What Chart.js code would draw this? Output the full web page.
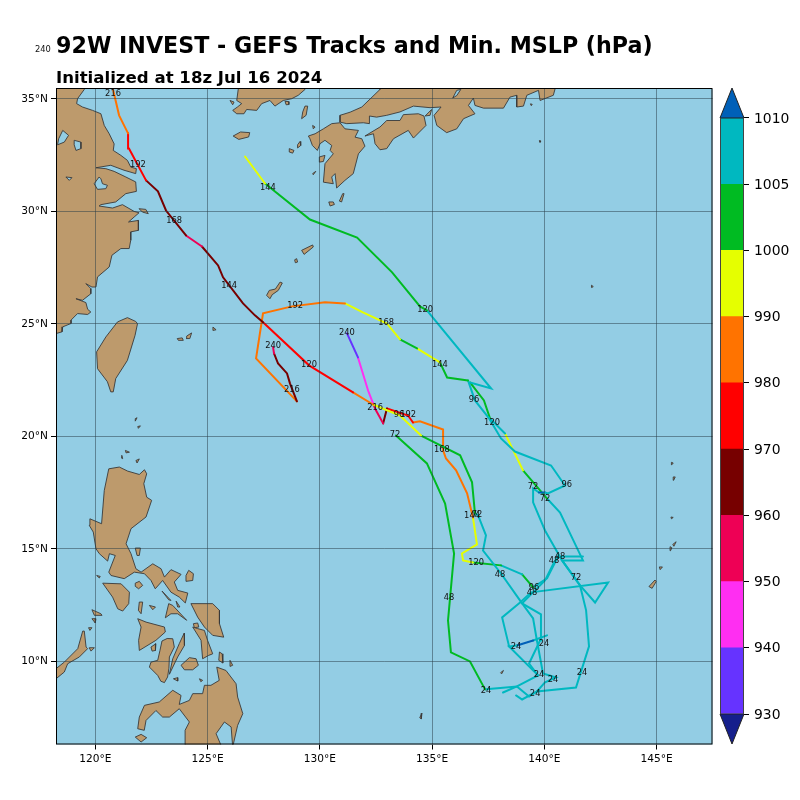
<!DOCTYPE html>
<html><head><meta charset="utf-8">
<style>html,body{margin:0;padding:0;background:#fff;width:800px;height:800px;overflow:hidden}
canvas{position:absolute;top:0}#map{left:0}#bar{left:712px}</style>
<script src="https://cdn.jsdelivr.net/npm/chart.js@4"></script></head>
<body><canvas id="map" width="800" height="800"></canvas><canvas id="bar" width="88" height="800"></canvas>
<script>
const titleText="92W INVEST - GEFS Tracks and Min. MSLP (hPa)";
const subtitleText="Initialized at 18z Jul 16 2024";
const levelValues=[930,940,950,960,970,980,990,1000,1005,1010];
const bandColors=["#6633ff","#ff2ef2","#ee0055","#770000","#ff0000","#ff7300","#e5ff00","#00bb22","#00b8c0"];
const underColor="#151f8c", overColor="#0060b8";
const oceanColor="#93cde4", landColor="#bd9a6c";

const t1Lon=[138.16,138.78,139.72,139.32,139.81,139.85,139.01,138.07,137.27,137.40,137.05,136.91,136.78,136.25,134.51,133.57,132.37,131.48,129.52,127.47,127.11,126.58,125.69,125.47,124.75,124.04,123.15,122.79,122.26,121.5,121.46,121.06,120.79,120.7];
const t1Lat=[8.62,8.89,9.38,9.91,10.93,12.09,12.58,13.91,14.93,15.6,16.49,16.58,17.96,19.16,20.04,20.93,21.42,21.96,23.16,25.07,25.38,25.91,27.07,27.6,28.44,28.93,30.04,30.89,31.38,32.8,33.47,34.27,35.42,35.8];
const t1Mslp=[1007,1007,1007,1007,1007,1007,1007,1007,1007,1007,1007,1003,1003,1003,995,995,985,975,975,965,965,965,965,965,955,965,965,965,975,975,985,985,985,985];

const t2Lon=[137.36,136.69,135.84,135.71,135.98,135.58,134.77,133.39];
const t2Lat=[8.76,10,10.4,11.82,14.8,17.02,18.8,20.04];
const t2Mslp=[1003,1003,1003,1003,1003,1003,1003,1003];

const t3Lon=[138.74,139.01,139.67,141.41,141.99,141.86,141.59,140.79,140.03,139.5,139.5,139.76,140.03,140.16,140.92,140.3,138.69,138.07,137.54,136.91,136.6,135.67,135.35,134.33,133.57,132.99,131.92,131.12,130.23,128.76,127.47,127.16,128.98,128.67,128.54,128.14,127.96,127.92];
const t3Lat=[8.49,8.31,8.67,8.84,10.67,12.27,13.38,14.49,15.82,17.07,17.69,17.51,17.51,17.47,17.82,18.71,19.33,19.91,20.8,21.6,22.49,22.62,23.29,23.91,24.31,25.02,25.51,25.91,25.96,25.78,25.47,23.47,21.56,22.36,22.8,23.24,23.69,23.96];
const t3Mslp=[1007,1007,1007,1007,1007,1007,1007,1007,1007,1007,1007,1012,1007,1007,1007,1007,1007,1007,1007,1007,1003,1003,995,1003,995,995,995,985,985,985,985,985,965,965,965,965,955,955];

const t4Lon=[141.72,140.61,140.52,140.12,139.5,139.01,138.07,136.82,136.38,136.33,137,136.82,136.56,136.07,135.62,135.49,135.49,134.46,134.15,133.93,132.99,132.82,132.5,132.37,132.15,131.7,131.21];
const t4Lat=[14.67,14.67,14.49,13.69,13.29,13.87,14.27,14.4,14.49,14.8,15.2,16.4,17.47,18.49,19.02,19.38,20.31,20.67,20.62,20.93,21.24,20.58,21.16,21.47,22.04,23.51,24.58];
const t4Mslp=[1007,1007,1007,1007,1003,1007,1003,995,995,995,995,985,985,985,985,985,985,985,975,975,965,955,955,945,945,935,935];

const t5Lon=[138.43,138.12,138.92,139.41,142.84,142.26,141.59,140.79,141.72,140.7,140.12,139.81,139.05,138.25,137.58,137.31,136.69,137.63,134.77,134.46,133.22,131.66,129.56,127.56,126.67];
const t5Lat=[10.67,11.96,12.62,13.07,13.51,12.62,13.38,14.49,14.49,16.62,17.24,17.6,18.49,20.13,20.8,21.6,22.4,22.13,25.6,25.78,27.29,28.84,29.64,31.24,32.44];
const t5Mslp=[1007,1007,1007,1007,1007,1007,1007,1007,1007,1007,1003,1003,995,1007,1003,1003,1007,1007,1003,1003,1003,1003,1003,995,995];

const t6Lon=[137.40,138.78,139.32,139.67,140.03,140.52,139.94,139.67,139.5,139.01,139.5,140.03,140.43,140.61];
const t6Lat=[8.76,8.89,8.44,8.67,9.07,9.29,9.47,10.93,11.91,12.58,13.07,13.6,14.4,14.67];
const t6Mslp=[1007,1007,1007,1007,1007,1007,1007,1007,1007,1007,1007,1007,1007,1007];

const t7Lon=[140.12,139.5,138.78,138.43,139.72];
const t7Lat=[11.16,10.93,10.71,10.67,9.38];
const t7Mslp=[1007,1012,1007,1007,1007];

const hourTexts=["240","216","192","168","144","144","192","120","168","240","240","120","144","216","96","216","96","192","120","72","168","72","96","72","144","72","120","48","48","48","72","96","48","48","24","24","24","24","24","24","24"];
const hourLon=[117.67,120.79,121.9,123.51,125.96,127.69,128.9,134.69,132.95,131.21,127.92,129.52,135.35,128.76,136.87,132.46,133.53,133.93,137.67,133.35,135.44,139.5,141.0,140.03,136.78,137,136.96,138.03,140.7,140.43,141.41,139.54,139.45,135.75,138.74,139.99,139.76,140.39,141.68,137.40,139.59];
const hourLat=[37.16,35.24,32.09,29.56,26.71,31.07,25.82,25.64,25.07,24.62,24.04,23.16,23.2,22.09,21.64,21.29,20.98,20.98,20.62,20.09,19.42,17.78,17.87,17.24,16.49,16.53,14.4,13.87,14.67,14.49,13.73,13.29,13.07,12.84,10.67,10.8,9.42,9.2,9.51,8.71,8.58];

const lonTicks=[120,125,130,135,140,145];
const latTicks=[10,15,20,25,30,35];

const chinaCoast=[[119.58,35.67],[119.51,35.42],[119.21,35.01],[119.17,34.79],[119.43,34.64],[119.88,34.49],[120.25,34.34],[120.40,33.82],[120.62,33.45],[120.84,33.0],[120.80,32.71],[121.14,32.49],[121.43,32.27],[121.58,31.97],[121.83,31.9],[121.80,31.68],[121.28,31.83],[120.69,32.05],[120.03,31.94],[120.47,31.9],[120.84,31.78],[121.36,31.53],[121.80,31.31],[121.83,30.89],[121.36,30.79],[120.91,30.42],[120.25,30.3],[120.17,30.24],[120.77,30.15],[121.21,30.3],[121.73,30.0],[121.95,29.94],[121.73,29.75],[121.48,29.53],[121.92,29.6],[121.92,29.16],[121.58,29.09],[121.58,28.72],[121.51,28.35],[121.14,28.35],[120.74,28.05],[120.62,27.53],[120.10,27.09],[120.03,26.64],[119.85,26.64],[119.58,26.79],[119.80,26.57],[119.80,26.34],[119.43,26.05],[119.14,26.12],[119.58,25.95],[119.66,25.65],[119.80,25.53],[119.66,25.42],[119.21,25.46],[118.92,25.17],[118.92,25.02],[118.55,24.87],[118.52,24.65],[118.25,24.57],[117.5,24.57],[117.5,35.67]];
const taiwanCoast=[[121.43,25.28],[121.80,25.11],[121.88,25.01],[121.77,24.49],[121.43,23.38],[120.91,22.57],[120.80,21.98],[120.69,21.98],[120.54,22.43],[120.10,23.01],[120.06,23.76],[120.47,24.42],[120.99,25.09]];
const koreaCoast=[[126.37,35.67],[126.37,35.45],[126.3,34.93],[126.52,34.79],[126.33,34.64],[126.12,34.49],[126.3,34.34],[126.62,34.34],[126.74,34.53],[127.19,34.49],[127.41,34.79],[127.78,34.93],[128.0,34.68],[128.37,34.93],[128.75,35.01],[129.04,35.16],[129.34,35.42],[129.37,35.67]];
const kyushuCoast=[[130.53,33.9],[130.9,33.94],[131.12,33.67],[131.72,33.6],[131.57,33.3],[131.87,33.23],[132.01,32.9],[131.72,32.56],[131.49,31.68],[131.12,31.38],[130.75,31.04],[130.68,31.68],[130.53,31.53],[130.6,31.23],[130.16,31.3],[130.23,32.12],[130.6,32.56],[130.46,32.71],[130.53,32.93],[130.23,33.16],[130.01,33.01],[129.89,32.71],[129.67,32.93],[129.56,33.23],[129.49,33.35],[129.79,33.45],[130.16,33.67]];
const shikokuCoast=[[132.01,33.35],[132.68,33.75],[132.98,34.04],[133.57,34.04],[133.72,34.3],[134.39,34.34],[134.64,34.24],[134.73,33.82],[134.17,33.26],[133.94,33.6],[133.28,33.23],[132.98,32.79],[132.68,32.74],[132.46,33.01],[132.39,33.45]];
const honshuCoast=[[130.9,34.27],[130.9,33.97],[131.2,33.9],[131.94,33.94],[132.21,33.9],[132.21,34.24],[132.53,34.19],[132.98,34.27],[133.57,34.42],[134.17,34.68],[134.91,34.61],[135.4,34.64],[135.09,34.27],[135.21,33.82],[135.65,33.5],[136.1,33.67],[136.4,34.12],[136.91,34.34],[136.62,34.71],[136.84,35.04],[136.91,34.71],[137.29,34.59],[138.18,34.59],[138.47,35.08],[138.77,35.16],[138.77,34.64],[139.07,34.68],[139.22,35.16],[139.74,35.38],[139.81,34.93],[140.4,35.16],[140.48,35.45],[140.55,35.67],[132.68,35.67],[132.68,35.42],[131.87,34.64],[131.35,34.41]];
const luzonCoast=[[120.6,18.56],[121.07,18.64],[121.44,18.46],[121.96,18.31],[122.19,18.52],[122.29,18.34],[122.16,17.9],[122.29,17.3],[122.51,17.16],[122.26,16.42],[121.59,15.9],[121.37,15.23],[121.59,14.79],[121.81,14.12],[122.04,13.97],[122.56,14.34],[122.93,14.12],[123.08,13.75],[123.37,14.08],[123.82,13.87],[123.52,13.53],[123.67,13.16],[124.12,13.04],[124.01,12.6],[123.74,12.86],[123.37,13.08],[123.0,13.6],[122.67,13.23],[122.48,13.6],[122.19,13.9],[121.74,13.97],[121.29,13.68],[120.7,13.82],[120.6,13.97],[120.89,14.71],[120.63,14.79],[120.55,14.46],[120.18,14.79],[120.03,15.01],[119.91,15.75],[119.73,16.05],[119.76,16.34],[120.28,16.12],[120.4,17.6]];
const mindoroCoast=[[120.33,13.48],[121.15,13.45],[121.52,13.08],[121.49,12.57],[121.22,12.24],[121.0,12.34],[120.77,12.86]];
const samarCoast=[[124.26,12.57],[125.23,12.57],[125.53,12.27],[125.53,11.68],[125.72,11.08],[125.23,11.16],[124.86,11.53],[124.56,11.97]];
const leyteCoast=[[124.34,11.53],[124.56,11.46],[124.86,11.38],[125.0,10.94],[125.23,10.34],[125.05,10.27],[124.78,10.12],[124.71,10.94]];
const panayCoast=[[121.89,11.9],[122.26,11.75],[123.08,11.53],[123.12,11.31],[122.7,10.94],[121.96,10.49],[121.93,10.94],[122.04,11.53]];
const negrosCoast=[[122.97,10.91],[123.2,11.02],[123.45,11.01],[123.52,10.64],[123.3,10.2],[123.28,9.7],[123.22,9.31],[123.08,9.06],[122.92,9.12],[122.78,9.38],[122.41,9.75],[122.48,9.97],[122.78,10.05],[122.88,10.49]];
const cebuCoast=[[123.96,11.26],[123.97,10.71],[123.67,10.2],[123.3,9.43],[123.45,10.12],[123.74,10.79]];
const boholCoast=[[123.82,9.83],[124.19,10.17],[124.49,10.12],[124.59,9.83],[124.34,9.63],[123.97,9.63]];
const mindanaoCoast=[[125.41,9.75],[125.82,9.6],[126.27,9.01],[126.34,8.42],[126.57,7.68],[126.34,7.16],[126.12,6.2],[126.05,7.09],[125.75,7.31],[125.38,6.79],[125.63,6.2],[124.04,6.2],[124.0,6.94],[124.19,7.31],[123.74,7.9],[123.3,7.53],[123.0,7.53],[122.7,7.82],[122.26,7.38],[122.18,6.94],[121.89,7.01],[121.96,7.53],[122.19,8.05],[122.85,8.2],[123.45,8.72],[123.82,8.49],[123.74,8.09],[124.19,8.27],[124.34,8.57],[124.78,8.57],[124.86,8.94],[125.15,8.94],[125.52,9.16]];
const palawanCoast=[[118.25,9.23],[118.25,9.68],[118.62,9.97],[119.22,10.57],[119.44,11.35],[119.51,11.35],[119.59,10.64],[119.66,10.57],[119.29,10.2],[118.77,9.9],[118.62,9.53]];
const okinawaCoast=[[127.63,26.27],[127.75,26.49],[128.02,26.55],[128.23,26.86],[128.33,26.82],[128.15,26.49],[127.88,26.3],[127.78,26.12]];
const smallIslands=[
[[121.95,30.12],[122.25,30.09],[122.36,29.9],[122.10,29.97]],
[[123.65,24.35],[123.87,24.38],[123.92,24.27],[123.70,24.27]],
[[124.07,24.46],[124.29,24.6],[124.21,24.35],[124.05,24.35]],
[[125.24,24.86],[125.38,24.74],[125.24,24.71]],
[[126.14,33.35],[126.47,33.53],[126.88,33.5],[126.83,33.31],[126.39,33.2]],
[[129.34,34.68],[129.46,34.68],[129.39,34.27],[129.19,34.12],[129.24,34.42]],
[[129.68,33.82],[129.79,33.75],[129.71,33.67]],
[[129.98,32.42],[130.23,32.49],[130.16,32.22],[129.98,32.19]],
[[128.64,32.79],[128.85,32.71],[128.79,32.59],[128.64,32.64]],
[[129.12,33.11],[129.15,32.93],[129.01,32.82],[129.01,32.96]],
[[129.68,31.68],[129.82,31.78],[129.71,31.63]],
[[134.69,34.24],[134.98,34.53],[134.91,34.27]],
[[139.38,34.78],[139.46,34.76],[139.42,34.7]],
[[139.78,33.15],[139.85,33.13],[139.81,33.07]],
[[129.19,28.27],[129.68,28.51],[129.71,28.42],[129.3,28.09]],
[[128.88,27.85],[128.97,27.9],[129.01,27.75],[128.91,27.72]],
[[130.87,30.46],[131.02,30.79],[131.08,30.79],[130.97,30.42]],
[[130.4,30.42],[130.6,30.42],[130.65,30.31],[130.46,30.24]],
[[126.0,34.93],[126.18,34.86],[126.12,34.74]],
[[128.45,34.89],[128.62,34.88],[128.62,34.75],[128.5,34.74]],
[[121.78,13.48],[121.96,13.56],[122.11,13.38],[121.93,13.23],[121.78,13.34]],
[[122.97,13.13],[123.37,12.71],[123.27,12.74]],
[[123.6,12.68],[123.77,12.42],[123.67,12.42]],
[[123.27,12.57],[123.45,12.49],[124.07,11.83],[123.67,12.12],[123.37,12.12],[123.12,11.94]],
[[124.16,14.05],[124.37,13.9],[124.34,13.6],[124.04,13.56],[124.04,13.82]],
[[124.37,11.68],[124.56,11.71],[124.61,11.53],[124.41,11.5]],
[[122.48,10.64],[122.7,10.79],[122.68,10.49],[122.53,10.46]],
[[123.48,9.23],[123.67,9.28],[123.67,9.13]],
[[124.64,9.23],[124.78,9.16],[124.7,9.1]],
[[125.53,10.42],[125.65,10.34],[125.68,9.93],[125.5,10.05]],
[[126.0,10.05],[126.12,9.83],[126.0,9.78]],
[[121.78,6.64],[122.04,6.76],[122.29,6.61],[122.04,6.42]],
[[119.85,12.3],[120.25,12.12],[120.3,12.05],[119.96,12.05]],
[[119.85,11.9],[120.03,11.9],[120.0,11.71]],
[[119.7,11.5],[119.85,11.5],[119.76,11.38]],
[[119.73,10.61],[119.96,10.61],[119.81,10.46]],
[[121.78,20.79],[121.86,20.83],[121.78,20.68]],
[[121.89,20.44],[122.01,20.47],[121.92,20.36]],
[[121.34,19.38],[121.52,19.3],[121.37,19.27]],
[[121.18,19.16],[121.22,19.01],[121.16,19.05]],
[[121.81,18.93],[121.96,19.0],[121.86,18.82]],
[[121.78,15.04],[122.01,15.04],[121.96,14.71],[121.86,14.71]],
[[120.06,13.82],[120.22,13.78],[120.18,13.71]],
[[121.96,12.64],[122.11,12.64],[122.04,12.12],[121.92,12.27]],
[[122.41,12.49],[122.68,12.42],[122.56,12.3]],
[[134.45,7.5],[134.55,7.7],[134.52,7.45]],
[[138.05,9.5],[138.18,9.6],[138.1,9.45]],
[[142.1,26.72],[142.18,26.66],[142.12,26.62]],
[[145.66,18.85],[145.74,18.82],[145.68,18.74]],
[[145.74,18.2],[145.83,18.2],[145.76,18.05]],
[[145.64,16.42],[145.74,16.4],[145.66,16.34]],
[[145.72,15.2],[145.87,15.32],[145.77,15.12]],
[[145.6,15.1],[145.68,15.05],[145.62,14.92]],
[[145.12,14.2],[145.26,14.2],[145.16,14.08]],
[[144.66,13.33],[144.93,13.62],[144.98,13.55],[144.8,13.25]]
];
const inlandWaters=[
[[120.17,31.53],[119.95,31.23],[120.10,30.98],[120.47,31.01],[120.54,31.16],[120.32,31.23],[120.25,31.45]],
[[119.06,33.16],[119.36,33.08],[119.36,32.79],[119.14,32.71],[119.06,32.96]],
[[118.55,33.6],[118.81,33.38],[118.62,33.08],[118.32,32.96],[118.37,33.23]],
[[118.69,31.53],[118.96,31.5],[118.84,31.38]],
[[135.92,35.04],[136.1,35.38],[136.28,35.42],[136.1,35.15]]
];

const landShapes=[chinaCoast,taiwanCoast,koreaCoast,kyushuCoast,shikokuCoast,honshuCoast,luzonCoast,mindoroCoast,samarCoast,leyteCoast,panayCoast,negrosCoast,cebuCoast,boholCoast,mindanaoCoast,palawanCoast,okinawaCoast,...smallIslands];

function ring(pts){const d=pts.map(p=>({x:p[0],y:p[1]}));d.push({...d[0]});return d;}
function colorFor(p){
  if(p<levelValues[0])return underColor;
  for(let i=0;i<bandColors.length;i++){if(p<levelValues[i+1])return bandColors[i];}
  return overColor;
}
function shape(pts,fillCol,ord){return{data:ring(pts),showLine:true,fill:'shape',backgroundColor:fillCol,borderColor:'#3a3a3a',borderWidth:0.9,pointRadius:0,tension:0,order:ord};}
function track(lon,lat,mslp){return{data:lon.map((x,i)=>({x,y:lat[i]})),showLine:true,fill:false,borderWidth:2,pointRadius:0,tension:0,order:1,borderColor:'#00b8c0',borderCapStyle:'round',
  segment:{borderColor:c=>colorFor(mslp[c.p0DataIndex])}};}

const mapDatasets=[
  track(t1Lon,t1Lat,t1Mslp),track(t2Lon,t2Lat,t2Mslp),track(t3Lon,t3Lat,t3Mslp),track(t4Lon,t4Lat,t4Mslp),track(t5Lon,t5Lat,t5Mslp),track(t6Lon,t6Lat,t6Mslp),track(t7Lon,t7Lat,t7Mslp),
  ...inlandWaters.map(w=>shape(w,oceanColor,2)),
  ...landShapes.map(l=>shape(l,landColor,3))
];

const mapPlugin={id:'mapDecor',
  beforeDraw(ch){const a=ch.chartArea,c=ch.ctx;c.save();c.fillStyle=oceanColor;c.fillRect(a.left,a.top,a.right-a.left,a.bottom-a.top);c.restore();},
  afterDraw(ch){const c=ch.ctx,a=ch.chartArea,xs=ch.scales.x,ys=ch.scales.y;c.save();
    c.font='8.3px "DejaVu Sans"';c.fillStyle='#111';c.textAlign='center';c.textBaseline='middle';
    hourTexts.forEach((t,i)=>c.fillText(t,xs.getPixelForValue(hourLon[i]),ys.getPixelForValue(hourLat[i])));
    c.strokeStyle='#000';c.lineWidth=1;c.strokeRect(a.left+.5,a.top-.5,a.right-a.left-1,a.bottom-a.top);c.restore();}
};
new Chart(document.getElementById('map'),{type:'scatter',data:{datasets:mapDatasets},plugins:[mapPlugin],
 options:{responsive:false,animation:false,devicePixelRatio:1,
  layout:{padding:{top:0,right:87.5,bottom:0,left:0}},
  plugins:{legend:{display:false},tooltip:{enabled:false},
   title:{display:true,text:titleText,align:'start',fullSize:false,color:'#000',font:{family:'"DejaVu Sans"',size:22.2,weight:'bold',lineHeight:1.2},padding:{top:34,bottom:8}},
   subtitle:{display:true,text:subtitleText,align:'start',fullSize:false,color:'#000',font:{family:'"DejaVu Sans"',size:16.6,weight:'bold',lineHeight:1.2},padding:{top:0,bottom:0.44}}},
  scales:{
   x:{type:'linear',min:118.25,max:147.49,afterFit(s){s.height=55.5;},afterBuildTicks(s){s.ticks=lonTicks.map(v=>({value:v}));},
      grid:{z:1,color:'rgba(40,60,70,0.5)',lineWidth:1,drawTicks:true,tickColor:'#000',tickLength:5},border:{display:false},
      ticks:{color:'#000',padding:3,maxRotation:0,autoSkip:false,font:{family:'"DejaVu Sans"',size:10.6},callback:v=>v+'°E'}},
   y:{type:'linear',min:6.31,max:35.44,afterFit(s){s.width=56;},afterBuildTicks(s){s.ticks=latTicks.map(v=>({value:v}));},
      grid:{z:1,color:'rgba(40,60,70,0.5)',lineWidth:1,drawTicks:true,tickColor:'#000',tickLength:5},border:{display:false},
      ticks:{color:'#000',padding:3,autoSkip:false,font:{family:'"DejaVu Sans"',size:10.6},callback:v=>v+'°N'}}
  }}});

const barPlugin={id:'barEnds',
  afterDatasetsDraw(ch){const c=ch.ctx,a=ch.chartArea,ys=ch.scales.y,mid=(a.left+a.right)/2;
    const y0=ys.getPixelForValue(0),y9=ys.getPixelForValue(bandColors.length);
    c.save();c.lineWidth=1;c.strokeStyle='#222';
    c.fillStyle=overColor;c.beginPath();c.moveTo(a.left,y9);c.lineTo(mid,a.top);c.lineTo(a.right,y9);c.closePath();c.fill();c.stroke();
    c.fillStyle=underColor;c.beginPath();c.moveTo(a.left,y0);c.lineTo(mid,a.bottom);c.lineTo(a.right,y0);c.closePath();c.fill();c.stroke();
    c.strokeStyle='#444';c.beginPath();c.moveTo(a.left+.5,y9);c.lineTo(a.left+.5,y0);c.moveTo(a.right-.5,y9);c.lineTo(a.right-.5,y0);c.stroke();
    c.restore();}
};
new Chart(document.getElementById('bar'),{type:'bar',
 data:{labels:['MSLP'],datasets:bandColors.map((col,i)=>({data:[[i,i+1]],backgroundColor:col,borderWidth:0,grouped:false,barPercentage:1,categoryPercentage:1}))},
 plugins:[barPlugin],
 options:{responsive:false,animation:false,devicePixelRatio:1,
  layout:{padding:{top:88,bottom:56,left:8,right:0}},
  plugins:{legend:{display:false},tooltip:{enabled:false}},
  scales:{x:{display:false},
   y:{position:'right',min:-0.453,max:9.453,afterFit(s){s.width=56;},afterBuildTicks(s){s.ticks=levelValues.map((_,i)=>({value:i}));},
      grid:{drawOnChartArea:false,tickColor:'#000',tickLength:5},border:{display:false},
      ticks:{color:'#000',padding:5,labelOffset:1,autoSkip:false,font:{family:'"DejaVu Sans"',size:13.9},callback:v=>String(levelValues[v])}}}
 }});
</script></body></html>
